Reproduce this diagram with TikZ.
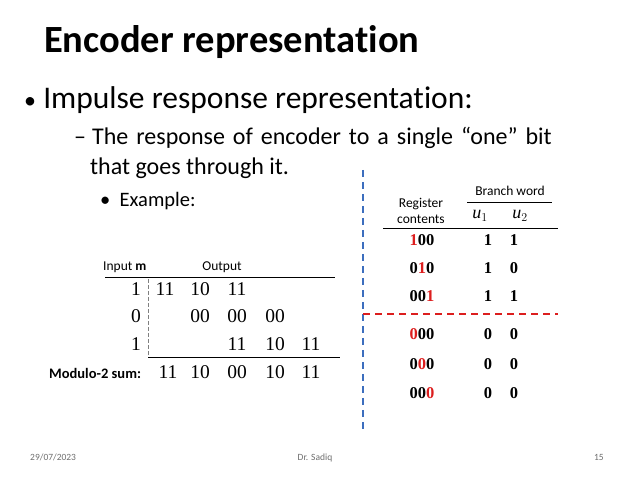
\documentclass[tikz,border=0pt]{standalone}
\usepackage{fontspec}
\setmainfont{Carlito}[Ligatures=NoCommon]
\newfontfamily\tms{Liberation Serif}
\definecolor{rd}{RGB}{220,30,30}
\definecolor{bl}{RGB}{60,110,190}
\definecolor{ft}{RGB}{110,110,110}
\begin{document}
\begin{tikzpicture}[x=1pt,y=-1pt,
  num/.style={font=\tms\fontsize{19.5}{19.5}\selectfont,inner sep=0pt},
  bnum/.style={font=\tms\bfseries\fontsize{16.5}{16.5}\selectfont,inner sep=0pt},
  sm/.style={font=\fontsize{13.5}{13.5}\selectfont,inner sep=0pt},
  foot/.style={font=\fontsize{9.5}{9.5}\selectfont,text=ft,inner sep=0pt,anchor=base}]
\useasboundingbox (0,0) rectangle (638,478);
\node[anchor=west,inner sep=0pt,font=\bfseries\fontsize{38.5}{38.5}\selectfont] (title) at (44,42) {Encoder representation};
\node[anchor=west,inner sep=0pt,font=\fontsize{31.5}{31.5}\selectfont] (b1) at (24,100) {{\fontsize{24}{24}\selectfont\textbullet}\ Impulse response representation:};
\node[anchor=west,inner sep=0pt,font=\fontsize{24}{24}\selectfont,text width=492pt] (b2) at (74,138) {\parfillskip=0pt --\hspace{6pt}The response of encoder to a single “one” bit};
\node[anchor=west,inner sep=0pt,font=\fontsize{24}{24}\selectfont] (b2b) at (90,168) {that goes through it.};
\node[anchor=west,inner sep=0pt,font=\fontsize{20.5}{20.5}\selectfont] (b3) at (100,201) {\textbullet\ \ Example:};
% left table
\node[sm,anchor=west] (inp) at (103,267) {Input \textbf{m}};
\node[sm] (outp) at (222,267) {Output};
\coordinate (t1) at (105,277); \coordinate (t2) at (335,277);
\draw[thick] (t1) -- (t2);
\coordinate (d1) at (148,279); \coordinate (d2) at (148,357); \coordinate (d3) at (340,357);
\draw[thick,gray,dash pattern=on 4pt off 2pt] (d1) -- (d2);
\draw[thick] (d2) -- (d3);
\node[num] (i1) at (136,289) {1};
\node[num] (i2) at (136,316) {0};
\node[num] (i3) at (136,344) {1};
\node[num] (r11) at (165,289) {11}; \node[num] (r12) at (200,289) {10}; \node[num] (r13) at (237,289) {11};
\node[num] (r21) at (200,316) {00}; \node[num] (r22) at (237,316) {00}; \node[num] (r23) at (275,316) {00};
\node[num] (r31) at (237,344) {11}; \node[num] (r32) at (275,344) {10}; \node[num] (r33) at (311,344) {11};
\node[anchor=west,inner sep=0pt,font=\bfseries\fontsize{14.5}{14.5}\selectfont] (mod) at (49,373) {Modulo-2 sum:};
\node[num] (s1) at (168,372) {11}; \node[num] (s2) at (200,372) {10}; \node[num] (s3) at (237,372) {00};
\node[num] (s4) at (275,372) {10}; \node[num] (s5) at (311,372) {11};
% right
\coordinate (v1) at (363,170); \coordinate (v2) at (363,432);
\draw[bl,line width=1.5pt,dash pattern=on 7pt off 5pt] (v1) -- (v2);
\node[sm] (bw) at (510,191) {Branch word};
\coordinate (w1) at (467,202); \coordinate (w2) at (552,202);
\draw (w1) -- (w2);
\node[sm] (rg) at (421,204) {Register};
\node[sm] (ct) at (421,219) {contents};
\node[font=\tms\itshape\fontsize{18}{18}\selectfont,inner sep=0pt] (u1) at (480,216) {u$_1$};
\node[font=\tms\itshape\fontsize{18}{18}\selectfont,inner sep=0pt] (u2) at (520,216) {u$_2$};
\coordinate (h1) at (383,228); \coordinate (h2) at (558,228);
\draw (h1) -- (h2);
\node[bnum] (g1) at (422,240) {\textcolor{rd}{1}00};
\node[bnum] (g2) at (422,268) {0\textcolor{rd}{1}0};
\node[bnum] (g3) at (422,296) {00\textcolor{rd}{1}};
\node[bnum] (g4) at (422,334) {\textcolor{rd}{0}00};
\node[bnum] (g5) at (422,364) {0\textcolor{rd}{0}0};
\node[bnum] (g6) at (422,393) {00\textcolor{rd}{0}};
\foreach \y/\a/\b [count=\k] in {240/1/1,268/1/0,296/1/1,334/0/0,364/0/0,393/0/0}{
  \node[bnum] (ba\k) at (488,\y) {\a};
  \node[bnum] (bb\k) at (514,\y) {\b};}
\coordinate (e1) at (363,314); \coordinate (e2) at (558,314);
\draw[rd,line width=1.5pt,dash pattern=on 7pt off 5pt] (e1) -- (e2);
% footer
\node[foot,anchor=base west] (date) at (30,461) {29/07/2023};
\node[foot] (auth) at (315,461) {Dr. Sadiq};
\node[foot,anchor=base east] (pg) at (604,461) {15};
\end{tikzpicture}
\end{document}
